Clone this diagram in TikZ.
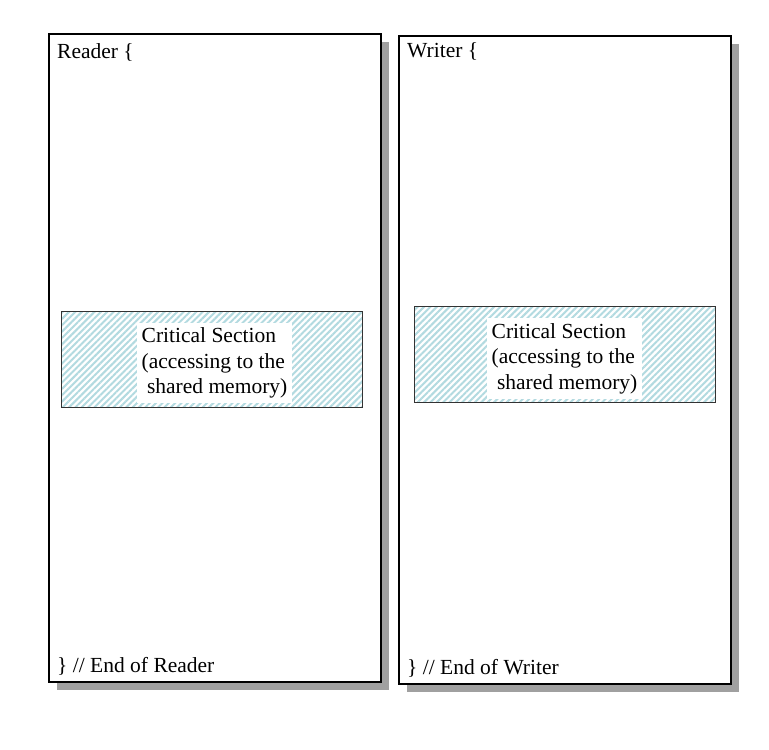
\documentclass[tikz,border=0pt]{standalone}
\usepackage{fontspec}
\setmainfont{Liberation Serif}
\usetikzlibrary{positioning,patterns.meta,shadows}

\definecolor{hatch}{RGB}{178,218,224}
\definecolor{shade}{RGB}{160,160,160}

\tikzset{
  proc/.style={draw=black, line width=2pt, fill=white, minimum width=332pt, minimum height=648pt,
    drop shadow={shadow xshift=8pt, shadow yshift=-8pt, fill=shade, opacity=1}},
  crit/.style={draw=black!80, line width=1pt, minimum width=301pt, minimum height=96pt,
    pattern={Lines[angle=45,distance=4.5pt,line width=2pt]}, pattern color=hatch},
  crittext/.style={fill=white, align=left, inner sep=5pt},
  code/.style={anchor=base west, inner sep=0pt}
}

\begin{document}
\begin{tikzpicture}[x=1pt,y=-1pt,font=\fontsize{21.5}{25.5}\selectfont]
\useasboundingbox (0,0) rectangle (769,750);

% reader process
\node[proc] (reader) at (215,357.5) {};
\node[code] (rbegin) at ([shift={(9,26)}]reader.north west) {Reader \{};
\node[code] (rend) at ([shift={(9,-10)}]reader.south west) {\} // End of Reader};
\node[crit] (rcrit) at (211.5,359) {};
\node[crittext] (rcrittext) at (214.5,363) {Critical Section\\(accessing to the\\\ shared memory)};

% writer process
\node[proc] (writer) at (565,359.5) {};
\node[code] (wbegin) at ([shift={(9,23)}]writer.north west) {Writer \{};
\node[code] (wend) at ([shift={(9,-10)}]writer.south west) {\} // End of Writer};
\node[crit] (wcrit) at (564.5,354.5) {};
\node[crittext] (wcrittext) at (564.5,358.5) {Critical Section\\(accessing to the\\\ shared memory)};
\end{tikzpicture}
\end{document}
